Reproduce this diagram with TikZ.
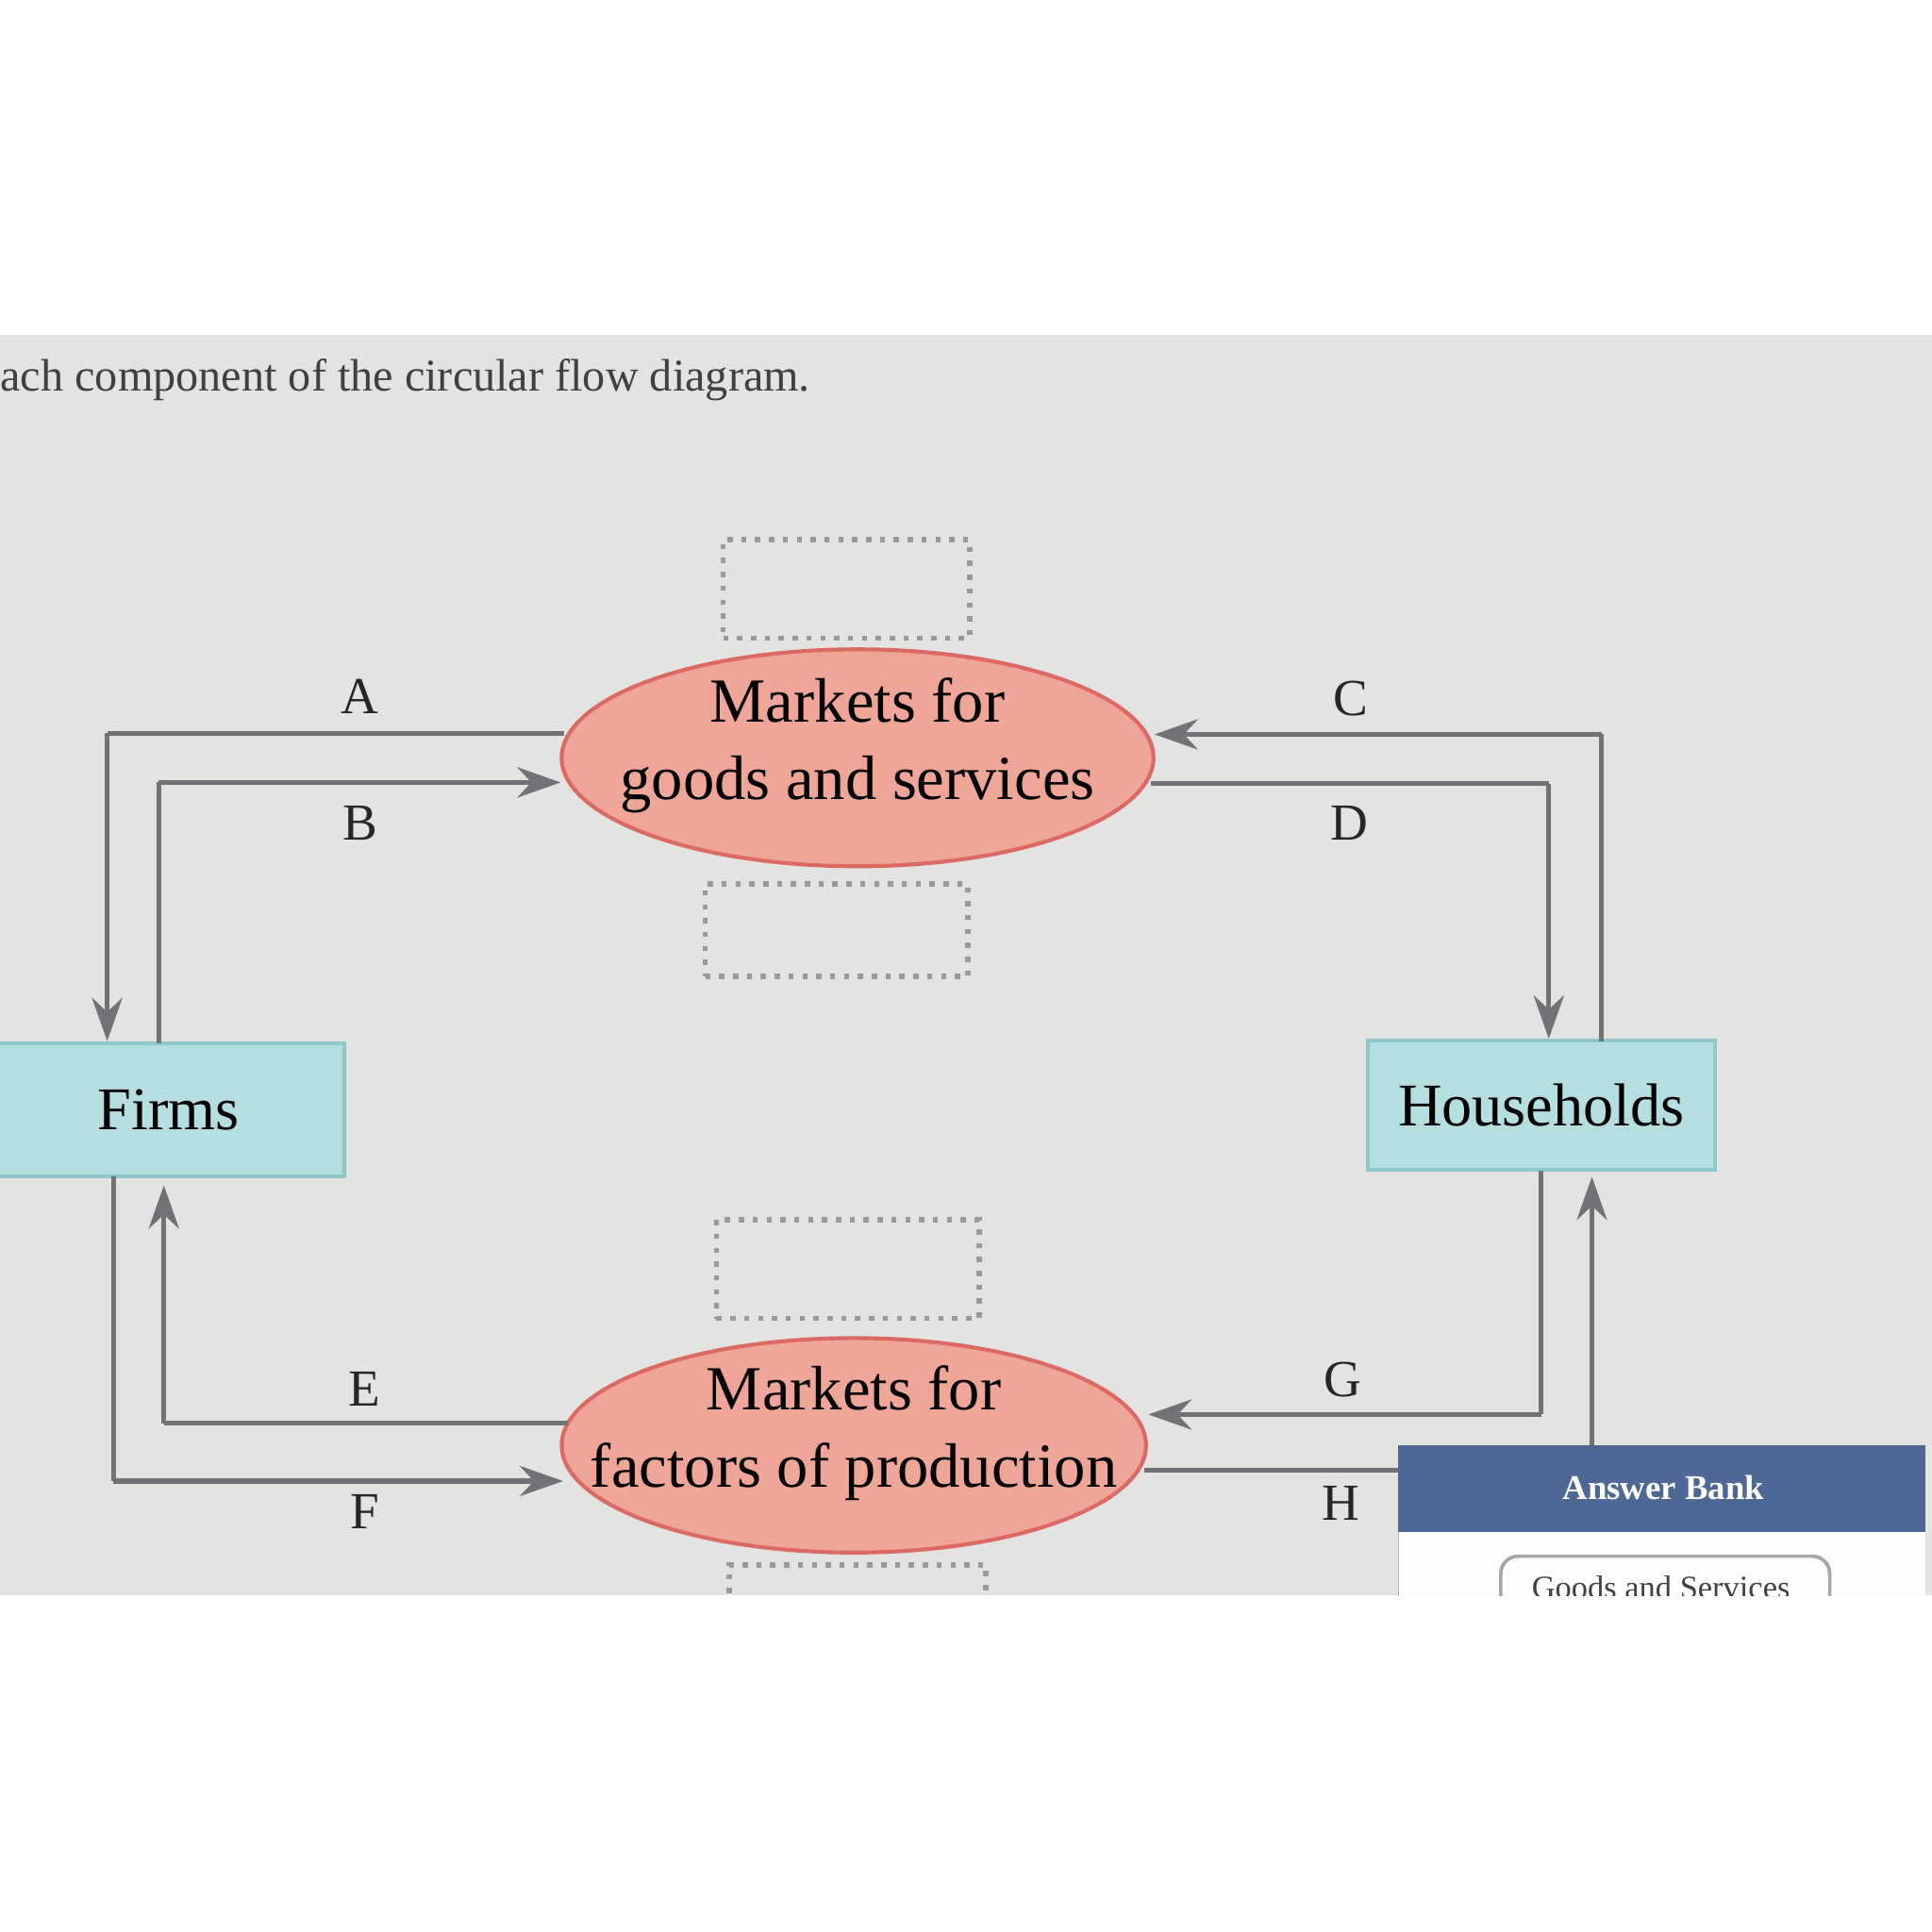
\documentclass[tikz,border=0pt]{standalone}
\usepackage{fontspec}
\setmainfont{Liberation Serif}
\usetikzlibrary{arrows.meta,shapes.geometric}
\definecolor{scr}{HTML}{E3E3E1}
\definecolor{salmon}{HTML}{EFA597}
\definecolor{salmonb}{HTML}{DD6A62}
\definecolor{cyanf}{HTML}{B5DEE0}
\definecolor{cyanb}{HTML}{8FC7CB}
\definecolor{flow}{HTML}{707276}
\definecolor{bank}{HTML}{4D6894}
\tikzset{
  flowline/.style={draw=flow,line width=1.1pt},
  arr/.style={flowline,-{Stealth[length=10pt,width=7pt]}},
  dotbox/.style={draw=gray!80,dotted,line width=1.2pt},
  mkt/.style={ellipse,fill=salmon,draw=salmonb,line width=0.9pt,inner sep=0pt},
  mkttext/.style={align=center,font=\fontsize{14.5}{18}\selectfont,inner sep=0pt},
  agent/.style={rectangle,fill=cyanf,draw=cyanb,line width=0.9pt,font=\fontsize{14}{17}\selectfont,inner sep=0pt},
  lab/.style={font=\fontsize{12}{14}\selectfont,text=black!85}
}
\begin{document}
\begin{tikzpicture}[x=0.01cm,y=-0.01cm]
\useasboundingbox (0,0) rectangle (1568,1568);
\fill[white] (0,0) rectangle (1568,1568);
\fill[scr] (0,272) rectangle (1568,1295);
\begin{scope}
\clip (0,272) rectangle (1568,1295);
\node[anchor=west,font=\fontsize{10.5}{12}\selectfont,text=black!75] (title) at (-12,308) {ach component of the circular flow diagram.};
\node[dotbox,minimum width=2cm,minimum height=0.8cm] (d1) at (687,478) {};
\node[dotbox,minimum width=2.13cm,minimum height=0.75cm] (d2) at (679,755) {};
\node[dotbox,minimum width=2.13cm,minimum height=0.8cm] (d3) at (688,1030) {};
\node[dotbox,minimum width=2.08cm,minimum height=0.6cm] (d4) at (696,1300) {};
\node[mkt,minimum width=4.8cm,minimum height=1.76cm] (m1) at (696,615) {};
\node[mkttext] (t1) at (696,605) {Markets for\\goods and services};
\node[mkt,minimum width=4.74cm,minimum height=1.74cm] (m2) at (693,1173) {};
\node[mkttext] (t2) at (693,1163) {Markets for\\factors of production};
\node[agent,minimum width=2.85cm,minimum height=1.08cm] (firms) at (137,901) {Firms};
\node[agent,minimum width=2.81cm,minimum height=1.05cm] (hh) at (1251,897) {Households};
\coordinate (a1) at (87,595); \coordinate (a2) at (87,845);
\coordinate (b1) at (129,635);
\coordinate (c1) at (1300,596);
\coordinate (d1c) at (1257,636); \coordinate (d2c) at (1257,843);
\coordinate (e1) at (133,1155); \coordinate (e2) at (133,962);
\coordinate (f1) at (92,1202);
\coordinate (g1) at (1251,1148);
\coordinate (h1) at (1292,1193); \coordinate (h2) at (1292,955);
\draw[flowline] (458,595) -- (a1);
\draw[arr] (a1) -- (a2);
\draw[flowline] (129,847) -- (b1);
\draw[arr] (b1) -- (455,635);
\draw[flowline] (1300,845) -- (c1);
\draw[arr] (c1) -- (937,596);
\draw[flowline] (934,636) -- (d1c);
\draw[arr] (d1c) -- (d2c);
\draw[flowline] (461,1155) -- (e1);
\draw[arr] (e1) -- (e2);
\draw[flowline] (92,955) -- (f1);
\draw[arr] (f1) -- (457,1202);
\draw[flowline] (1251,950) -- (g1);
\draw[arr] (g1) -- (932,1148);
\draw[flowline] (929,1193) -- (h1);
\draw[arr] (h1) -- (h2);
\node[lab] (la) at (292,565) {A};
\node[lab] (lb) at (292,668) {B};
\node[lab] (lc) at (1096,567) {C};
\node[lab] (ld) at (1095,668) {D};
\node[lab] (le) at (296,1127) {E};
\node[lab] (lf) at (296,1227) {F};
\node[lab] (lg) at (1090,1120) {G};
\node[lab] (lh) at (1088,1220) {H};
\fill[white!92!scr] (1135,1243) rectangle (1563,1300);
\draw[gray!60] (1135,1243) -- (1135,1300);
\fill[bank] (1135,1173) rectangle (1563,1243);
\node[text=white,font=\bfseries\fontsize{8}{9}\selectfont] (ab) at (1350,1207) {Answer Bank};
\draw[gray!70,rounded corners=4pt,fill=white!95!scr,line width=0.8pt] (1218,1310) -- (1218,1263) -- (1485,1263) -- (1485,1310);
\node[font=\fontsize{7.5}{9}\selectfont,text=black!75] (gs) at (1348,1288) {Goods and Services};
\end{scope}
\end{tikzpicture}
\end{document}
